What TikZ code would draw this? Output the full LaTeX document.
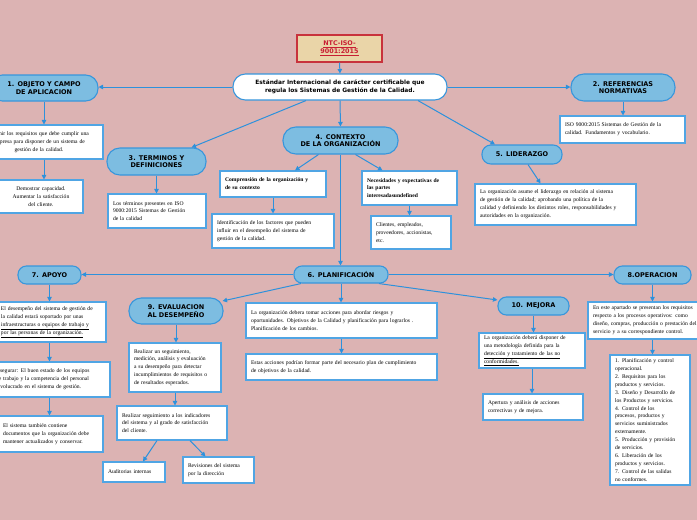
\documentclass[tikz,border=0pt]{standalone}
\usepackage{fontspec}
\setmainfont{Liberation Serif}
\newfontfamily\hdfont{DejaVu Sans}
\usetikzlibrary{arrows.meta,calc}
\definecolor{bgc}{RGB}{220,179,179}
\definecolor{pillfill}{RGB}{125,189,225}
\definecolor{pillbd}{RGB}{55,150,220}
\definecolor{linec}{RGB}{45,145,220}
\definecolor{boxbd}{RGB}{80,165,228}
\definecolor{titlefill}{RGB}{234,213,168}
\definecolor{titlebd}{RGB}{200,50,60}
\definecolor{titletx}{RGB}{200,30,50}
\newcommand\mkbox[7]{%
 \pgfmathsetmacro\myCX{(#3+#5)/2}%
 \pgfmathsetmacro\myCY{(#4+#6)/2}%
 \pgfmathsetmacro\myW{#5-#3}%
 \pgfmathsetmacro\myH{#6-#4}%
 \pgfmathsetmacro\myTW{#5-#3-10}%
 \pgfmathsetmacro\myR{(#6-#4)/2-0.6}%
 \node[#1,minimum width=\myW pt,minimum height=\myH pt,text width=\myTW pt] (#2) at (\myCX,\myCY) {#7};}
\tikzset{
 pill/.style={draw=pillbd, fill=pillfill, line width=1.1pt, rounded corners=\myR pt, align=center,
   font=\hdfont\bfseries\fontsize{6.5}{7.6}\selectfont, inner xsep=5pt, inner ysep=0pt},
 cpill/.style={pill, fill=white, font=\hdfont\bfseries\fontsize{5.9}{7.5}\selectfont},
 wbox/.style={draw=boxbd, fill=white, line width=1.1pt, align=left,
   font=\fontsize{5.6}{7.9}\selectfont, inner xsep=5pt, inner ysep=0pt},
 cbox/.style={wbox, align=center},
 tbox/.style={draw=titlebd, fill=titlefill, line width=1.1pt, align=center, text=titletx,
   font=\hdfont\bfseries\fontsize{6.4}{8}\selectfont, inner xsep=5pt, inner ysep=0pt},
 arr/.style={draw=linec, line width=1pt, -{Triangle[length=4.5pt,width=4.5pt]}}
}
\begin{document}
\begin{tikzpicture}[x=1pt,y=-1pt]
\fill[bgc] (0,0) rectangle (697,520);
\useasboundingbox (0,0) rectangle (697,520);
% top
\mkbox{tbox}{tt}{297}{35}{382}{62}{\underline{NTC-ISO-}\\\underline{9001:2015}}
\mkbox{cpill}{cen}{233}{74}{447}{100}{Estándar Internacional de carácter certificable que\\regula los Sistemas de Gestión de la Calidad.}
% 1
\mkbox{pill}{n1}{-10}{75}{98}{101}{1. OBJETO Y CAMPO\\DE APLICACION}
\mkbox{cbox}{b1a}{-25}{125}{103}{159}{Definir los requisitos que debe cumplir una\\empresa para disponer de un sistema de\\gestión de la calidad.}
\mkbox{cbox}{b1b}{-1}{180}{83}{213}{Demostrar capacidad.\\Aumentar la satisfacción\\del cliente.}
% 2
\mkbox{pill}{n2}{571}{74}{675}{101}{2. REFERENCIAS\\NORMATIVAS}
\mkbox{wbox}{b2a}{560}{116}{685}{143}{ISO 9000:2015 Sistemas de Gestión de la\\calidad. Fundamentos y vocabulario.}
% 3
\mkbox{pill}{n3}{107}{148}{206}{175}{3. TERMINOS Y\\DEFINICIONES}
\mkbox{wbox}{b3a}{108}{194}{206}{228}{Los términos presentes en ISO\\9000:2015 Sistemas de Gestión\\de la calidad}
% 4
\mkbox{pill}{n4}{283}{127}{398}{154}{4. CONTEXTO\\DE LA ORGANIZACIÓN}
\mkbox{wbox}{b4a}{220}{171}{326}{197}{\textbf{Comprensión de la organización y}\\\textbf{de su contexto}}
\mkbox{wbox}{b4b}{212}{214}{334}{248}{Identificación de los factores que pueden\\influir en el desempeño del sistema de\\gestión de la calidad.}
\mkbox{wbox}{b4c}{362}{171}{457}{205}{\textbf{Necesidades y expectativas de}\\\textbf{las partes}\\\textbf{interesadasundefined}}
\mkbox{wbox}{b4d}{371}{216}{451}{249}{Clientes, empleados,\\proveedores, accionistas,\\etc.}
% 5
\mkbox{pill}{n5}{482}{145}{562}{164}{5. LIDERAZGO}
\mkbox{wbox}{b5a}{475}{184}{636}{225}{La organización asume el liderazgo en relación al sistema\\de gestión de la calidad; aprobando una política de la\\calidad y definiendo los distintos roles, responsabilidades y\\autoridades en la organización.}
% row 6,7,8
\mkbox{pill}{n6}{294}{266}{388}{283}{6. PLANIFICACIÓN}
\mkbox{pill}{n7}{18}{266}{81}{284}{7. APOYO}
\mkbox{pill}{n8}{614}{266}{691}{284}{8.OPERACION}
% 7
\mkbox{wbox}{b7a}{-4}{302}{106}{342}{El desempeño del sistema de gestión de\\la calidad estará soportado por unas\\\underline{infraestructuras o equipos de trabajo y}\\\underline{por las personas de la organización.}}
\mkbox{wbox}{b7b}{-9}{362}{110}{397}{Asegurar:\enspace El buen estado de los equipos\\de trabajo y la competencia del personal\\involucrado en el sistema de gestión.}
\mkbox{wbox}{b7c}{-2}{416}{103}{452}{El sistema también contiene\\documentos que la organización debe\\mantener actualizados y conservar.}
% 9
\mkbox{pill}{n9}{129}{298}{223}{324}{9. EVALUACION\\AL DESEMPEÑO}
\mkbox{wbox}{b9a}{129}{343}{221}{392}{Realizar un seguimiento,\\medición, análisis y evaluación\\a su desempeño para detectar\\incumplimientos de requisitos o\\de resultados esperados.}
\mkbox{wbox}{b9b}{117}{406}{227}{440}{Realizar seguimiento a los indicadores\\del sistema y al grado de satisfacción\\del cliente.}
\mkbox{wbox}{b9c}{103}{462}{165}{482}{Auditorias internas}
\mkbox{wbox}{b9d}{183}{457}{254}{483}{Revisiones del sistema\\por la dirección}
% 6 boxes
\mkbox{wbox}{b6a}{246}{303}{437}{338}{La organización debera tomar acciones para abordar riesgos y\\oportunidades. Objetivos de la Calidad y planificación para lograrlos .\\Planificación de los cambios.}
\mkbox{wbox}{b6b}{246}{354}{437}{380}{Estas acciones podrían formar parte del necesario plan de cumplimiento\\de objetivos de la calidad.}
% 10
\mkbox{pill}{n10}{498}{297}{569}{315}{10. MEJORA}
\mkbox{wbox}{b10a}{479}{333}{585}{368}{La organización deberá disponer de\\una metodología definida para la\\\underline{detección y tratamiento de las no}\\\underline{conformidades.}}
\mkbox{wbox}{b10b}{483}{394}{583}{420}{Apertura y análisis de acciones\\correctivas y de mejora.}
% 8
\mkbox{wbox}{b8a}{588}{302}{730}{339}{En este apartado se presentan los requisitos\\respecto a los procesos operativos: como\\diseño, compras, producción o prestación del\\servicio y a su correspondiente control.}
\mkbox{wbox}{b8b}{610}{355}{690}{485}{1. Planificación y control\\operacional.\\2. Requisitos para los\\productos y servicios.\\3. Diseño y Desarrollo de\\los Productos y servicios.\\4. Control de los\\procesos, productos y\\servicios suministrados\\externamente.\\5. Producción y provisión\\de servicios.\\6. Liberación de los\\productos y servicios.\\7. Control de las salidas\\no conformes.}
% connectors
\draw[arr] (tt.south) -- (cen.north);
\draw[arr] (cen.west) -- (cen.west -| n1.east);
\draw[arr] (cen.east) -- (cen.east -| n2.west);
\draw[arr] ($(cen.south)+(-34,0)$) -- ($(n3.north)+(35,0)$);
\draw[arr] (cen.south) -- (n4.north);
\draw[arr] ($(cen.south)+(78,0)$) -- ($(n5.north)+(-27,0)$);
\draw[arr] (n1.south) -- (n1.south |- b1a.north);
\draw[arr] (n1.south |- b1a.south) -- (n1.south |- b1b.north);
\draw[arr] (n2.south) -- (n2.south |- b2a.north);
\draw[arr] (n3.south) -- (n3.south |- b3a.north);
\draw[arr] ($(n4.south)+(-22,0)$) -- ($(b4a.north)+(22,0)$);
\draw[arr] (b4a.south) -- (b4a.south |- b4b.north);
\draw[arr] ($(n4.south)+(15,0)$) -- ($(b4c.north)+(-27,0)$);
\draw[arr] (b4c.south) -- (b4c.south |- b4d.north);
\draw[arr] (n4.south) -- (n4.south |- n6.north);
\draw[arr] ($(n5.south)+(6,0)$) -- ($(b5a.north)+(-15,0)$);
\draw[arr] (n6.west) -- (n6.west -| n7.east);
\draw[arr] (n6.east) -- (n6.east -| n8.west);
\draw[arr] (n7.south) -- (n7.south |- b7a.north);
\draw[arr] (n7.south |- b7a.south) -- (n7.south |- b7b.north);
\draw[arr] (n7.south |- b7b.south) -- (n7.south |- b7c.north);
\draw[arr] ($(n6.south)+(-40,0)$) -- ($(n9.east)+(-1,-10)$);
\draw[arr] (n6.south) -- (n6.south |- b6a.north);
\draw[arr] (b6a.south) -- (b6a.south |- b6b.north);
\draw[arr] ($(n6.south)+(38,0)$) -- ($(n10.west)+(0,-6)$);
\draw[arr] (n9.south) -- (n9.south |- b9a.north);
\draw[arr] (b9a.south) -- (b9a.south |- b9b.north);
\draw[arr] ($(b9b.south)+(-15,0)$) -- ($(b9c.north)+(9,0)$);
\draw[arr] ($(b9b.south)+(18,0)$) -- ($(b9d.north)+(-13,0)$);
\draw[arr] (n10.south) -- (n10.south |- b10a.north);
\draw[arr] (b10a.south) -- (b10a.south |- b10b.north);
\draw[arr] (n8.south) -- (n8.south |- b8a.north);
\draw[arr] (n8.south |- b8a.south) -- (n8.south |- b8b.north);
\end{tikzpicture}
\end{document}
